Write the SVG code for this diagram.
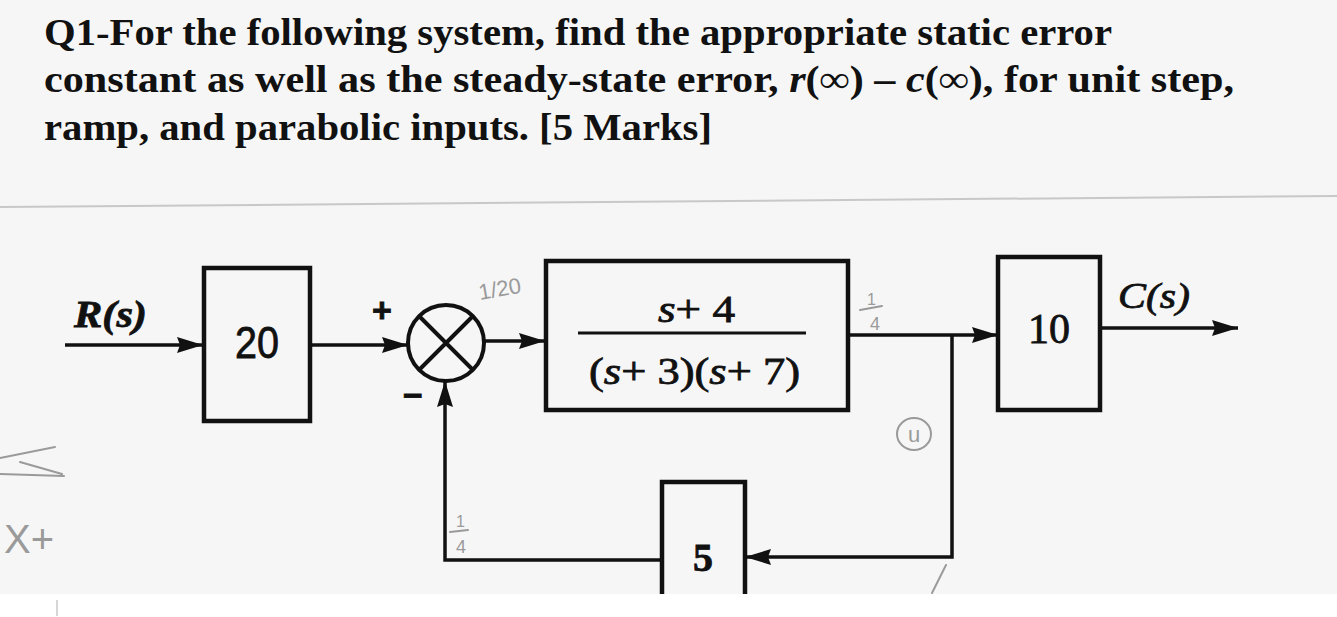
<svg xmlns="http://www.w3.org/2000/svg" width="1337" height="617" viewBox="0 0 1337 617">
<defs>
<style>
.title{font-family:"Liberation Serif","Times New Roman",serif;font-weight:bold;font-size:38px;fill:#111}
.box{fill:none;stroke:#111;stroke-width:4.5}
.wire{fill:none;stroke:#111;stroke-width:3.5}
.lbl{font-family:"Liberation Serif","Times New Roman",serif;fill:#111;stroke:#111;stroke-width:0.8}
.sans{font-family:"Liberation Sans",Arial,sans-serif;fill:#111;stroke:#111;stroke-width:0.8}
.pencil{font-family:"Liberation Sans",Arial,sans-serif;fill:#9a9a9a}
.pline{fill:none;stroke:#9a9a9a;stroke-width:2;stroke-linecap:round}
</style>
<marker id="arrow" markerUnits="userSpaceOnUse" markerWidth="26" markerHeight="16" refX="26" refY="8" orient="auto">
<path d="M0,0 L26,8 L0,16 L3,8 z" fill="#111"/>
</marker>
</defs>
<rect x="0" y="0" width="1337" height="617" fill="#ffffff"/>
<rect x="0" y="0" width="1337" height="594" fill="#f6f6f6"/>
<line x1="0" y1="207" x2="1337" y2="196" stroke="#c8c8c8" stroke-width="2"/>

<g id="question">
<text class="title" x="44" y="45" textLength="1068" lengthAdjust="spacingAndGlyphs">Q1-For the following system, find the appropriate static error</text>
<text class="title" x="44" y="92" textLength="1190" lengthAdjust="spacingAndGlyphs">constant as well as the steady-state error, <tspan font-style="italic">r</tspan>(∞) – <tspan font-style="italic">c</tspan>(∞), for unit step,</text>
<text class="title" x="44" y="140" textLength="668" lengthAdjust="spacingAndGlyphs">ramp, and parabolic inputs. [5 Marks]</text>
</g>

<g id="connectors">
<path class="wire" d="M65,345 H203" marker-end="url(#arrow)"/>
<path class="wire" d="M310,345 H408" marker-end="url(#arrow)"/>
<path class="wire" d="M484,341 H545" marker-end="url(#arrow)"/>
<path class="wire" d="M848,335 H998" marker-end="url(#arrow)"/>
<path class="wire" d="M1100,328 H1238" marker-end="url(#arrow)"/>
<path class="wire" d="M952,335 V557 H745" marker-end="url(#arrow)"/>
<path class="wire" d="M662,560 H445 V381" marker-end="url(#arrow)"/>
</g>

<g id="input-label">
<text class="lbl" x="74" y="327" font-size="38" font-style="italic" font-weight="bold" textLength="73" lengthAdjust="spacingAndGlyphs">R(s)</text>
</g>

<g id="gain20">
<rect class="box" x="204" y="268" width="106" height="153"/>
<text class="sans" x="257" y="358" font-size="44" text-anchor="middle" textLength="44" lengthAdjust="spacingAndGlyphs">20</text>
</g>

<g id="summing">
<circle cx="446" cy="343" r="38" fill="none" stroke="#111" stroke-width="4"/>
<path d="M419,316 L473,370 M473,316 L419,370" stroke="#111" stroke-width="4"/>
<text class="sans" x="382" y="322" font-size="34" font-weight="bold" text-anchor="middle">+</text>
<text class="sans" x="413" y="407" font-size="34" font-weight="bold" text-anchor="middle">−</text>
</g>

<g id="plant">
<rect class="box" x="546" y="261" width="302" height="149"/>
<text class="lbl" x="658" y="322" font-size="38" textLength="77" lengthAdjust="spacingAndGlyphs"><tspan font-style="italic">s</tspan>+ 4</text>
<line x1="578" y1="333" x2="806" y2="333" stroke="#111" stroke-width="3"/>
<text class="lbl" x="589" y="384" font-size="38" textLength="211" lengthAdjust="spacingAndGlyphs">(<tspan font-style="italic">s</tspan>+ 3)(<tspan font-style="italic">s</tspan>+ 7)</text>
</g>

<g id="gain10">
<rect class="box" x="998" y="257" width="102" height="153"/>
<text class="lbl" x="1049" y="343" font-size="42" text-anchor="middle">10</text>
</g>

<g id="output-label">
<text class="lbl" x="1118" y="308" font-size="36" font-style="italic" textLength="72" lengthAdjust="spacingAndGlyphs">C(s)</text>
</g>

<g id="feedback5">
<path class="box" d="M662,594 V482 H745 V594"/>
<text class="lbl" x="703" y="571" font-size="40" font-weight="bold" text-anchor="middle">5</text>
</g>

<g id="pencil-notes">
<text class="pencil" x="480" y="300" font-size="22" transform="rotate(-10 480 300)">1/20</text>
<text class="pencil" x="867" y="305" font-size="16">1</text>
<line class="pline" x1="860" y1="310" x2="882" y2="306"/>
<text class="pencil" x="870" y="330" font-size="18">4</text>
<ellipse cx="914" cy="434" rx="17" ry="16" class="pline"/>
<text class="pencil" x="914" y="442" font-size="22" text-anchor="middle">u</text>
<text class="pencil" x="456" y="527" font-size="16">1</text>
<line class="pline" x1="450" y1="532" x2="468" y2="530"/>
<text class="pencil" x="456" y="553" font-size="18">4</text>
<text class="pencil" x="4" y="553" font-size="40" fill="#808080">X+</text>
<path class="pline" d="M0,458 L55,447 M0,474 L64,476 M20,462 L62,474" stroke="#808080"/>
<line class="pline" x1="946" y1="565" x2="932" y2="593"/>
<line x1="57" y1="600" x2="57" y2="616" stroke="#c8c8c8" stroke-width="1.5"/>
</g>
</svg>
